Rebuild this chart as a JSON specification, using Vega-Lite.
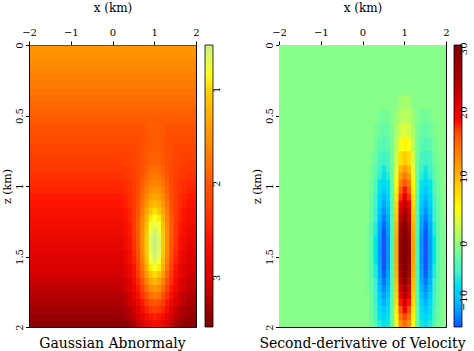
{
"$schema":"https://vega.github.io/schema/vega-lite/v6.json",
"padding":{"left":0,"top":0,"right":0,"bottom":0},
"background":"white",
"config":{
"font":"DejaVu Serif",
"view":{"stroke":"#000","strokeWidth":1},
"axis":{"labelFont":"DejaVu Serif","labelFontSize":10,"labelColor":"#000","titleFont":"DejaVu Serif","titleFontSize":12,"titleFontWeight":"normal","titleColor":"#000","tickColor":"#000","domainColor":"#000","tickSize":4,"grid":false,"labelOverlap":false},
"axisLeft":{"titleFontSize":11},
"legend":{"labelFont":"DejaVu Serif","labelFontSize":10,"labelColor":"#000"},
"title":{"font":"DejaVu Serif","fontSize":14,"fontWeight":"normal","color":"#000"}
},
"datasets":{
"leftBands":[
{"z":0,"v":1.43},{"z":0.05,"v":1.48},{"z":0.1,"v":1.53},{"z":0.15,"v":1.58},{"z":0.2,"v":1.63},{"z":0.25,"v":1.68},{"z":0.3,"v":1.73},{"z":0.35,"v":1.78},{"z":0.4,"v":1.83},{"z":0.45,"v":1.88},
{"z":0.5,"v":1.93},{"z":0.55,"v":1.98},{"z":0.6,"v":2.03},{"z":0.65,"v":2.08},{"z":0.7,"v":2.13},{"z":0.75,"v":2.18},{"z":0.8,"v":2.23},{"z":0.85,"v":2.28},{"z":0.9,"v":2.33},{"z":0.95,"v":2.38},
{"z":1,"v":2.43},{"z":1.05,"v":2.48},{"z":1.1,"v":2.53},{"z":1.15,"v":2.58},{"z":1.2,"v":2.63},{"z":1.25,"v":2.68},{"z":1.3,"v":2.73},{"z":1.35,"v":2.78},{"z":1.4,"v":2.83},{"z":1.45,"v":2.88},
{"z":1.5,"v":2.93},{"z":1.55,"v":2.98},{"z":1.6,"v":3.03},{"z":1.65,"v":3.08},{"z":1.7,"v":3.13},{"z":1.75,"v":3.18},{"z":1.8,"v":3.23},{"z":1.85,"v":3.28},{"z":1.9,"v":3.33},{"z":1.95,"v":3.38}
],
"leftCells":[
{"x":0.75,"z":0.55,"v":1.94},{"x":0.85,"z":0.55,"v":1.92},{"x":0.95,"z":0.55,"v":1.92},{"x":1.05,"z":0.55,"v":1.92},{"x":1.15,"z":0.55,"v":1.94},
{"x":0.55,"z":0.65,"v":2.04},{"x":0.65,"z":0.65,"v":2.0},{"x":0.75,"z":0.65,"v":1.97},{"x":0.85,"z":0.65,"v":1.94},{"x":0.95,"z":0.65,"v":1.93},{"x":1.05,"z":0.65,"v":1.94},{"x":1.15,"z":0.65,"v":1.97},{"x":1.25,"z":0.65,"v":2.0},{"x":1.35,"z":0.65,"v":2.04},
{"x":0.25,"z":0.75,"v":2.18},{"x":0.35,"z":0.75,"v":2.17},{"x":0.45,"z":0.75,"v":2.13},{"x":0.55,"z":0.75,"v":2.08},{"x":0.65,"z":0.75,"v":2.01},{"x":0.75,"z":0.75,"v":1.95},{"x":0.85,"z":0.75,"v":1.89},{"x":0.95,"z":0.75,"v":1.87},{"x":1.05,"z":0.75,"v":1.89},{"x":1.15,"z":0.75,"v":1.95},{"x":1.25,"z":0.75,"v":2.01},{"x":1.35,"z":0.75,"v":2.08},{"x":1.45,"z":0.75,"v":2.13},{"x":1.55,"z":0.75,"v":2.17},{"x":1.65,"z":0.75,"v":2.18},
{"x":0.25,"z":0.85,"v":2.27},{"x":0.35,"z":0.85,"v":2.24},{"x":1.55,"z":0.85,"v":2.24},{"x":1.65,"z":0.85,"v":2.27},
{"x":0.25,"z":0.95,"v":2.36},{"x":0.35,"z":0.95,"v":2.31},{"x":1.55,"z":0.95,"v":2.31},{"x":1.65,"z":0.95,"v":2.36},
{"x":0.25,"z":1.05,"v":2.44},{"x":0.35,"z":1.05,"v":2.36},{"x":1.55,"z":1.05,"v":2.36},{"x":1.65,"z":1.05,"v":2.44},
{"x":0.25,"z":1.15,"v":2.52},{"x":0.35,"z":1.15,"v":2.42},{"x":1.55,"z":1.15,"v":2.42},{"x":1.65,"z":1.15,"v":2.52},
{"x":0.25,"z":1.25,"v":2.6},{"x":0.35,"z":1.25,"v":2.48},{"x":1.55,"z":1.25,"v":2.48},{"x":1.65,"z":1.25,"v":2.6},
{"x":0.25,"z":1.35,"v":2.69},{"x":0.35,"z":1.35,"v":2.56},{"x":1.55,"z":1.35,"v":2.56},{"x":1.65,"z":1.35,"v":2.69},
{"x":0.25,"z":1.45,"v":2.79},{"x":0.35,"z":1.45,"v":2.65},{"x":1.55,"z":1.45,"v":2.65},{"x":1.65,"z":1.45,"v":2.79},
{"x":0.25,"z":1.55,"v":2.9},{"x":0.35,"z":1.55,"v":2.77},{"x":1.55,"z":1.55,"v":2.77},{"x":1.65,"z":1.55,"v":2.9},
{"x":0.25,"z":1.65,"v":3.02},{"x":0.35,"z":1.65,"v":2.91},{"x":1.55,"z":1.65,"v":2.91},{"x":1.65,"z":1.65,"v":3.02},
{"x":0.25,"z":1.75,"v":3.14},{"x":0.35,"z":1.75,"v":3.05},{"x":1.55,"z":1.75,"v":3.05},{"x":1.65,"z":1.75,"v":3.14},
{"x":0.25,"z":1.85,"v":3.25},{"x":0.35,"z":1.85,"v":3.2},{"x":1.55,"z":1.85,"v":3.2},{"x":1.65,"z":1.85,"v":3.25},
{"x":0.25,"z":1.95,"v":3.37},{"x":0.35,"z":1.95,"v":3.33},{"x":1.55,"z":1.95,"v":3.33},{"x":1.65,"z":1.95,"v":3.37}
],
"leftFine":[
{"x":0.45,"z":0.85,"v":2.17},{"x":0.55,"z":0.85,"v":2.09},{"x":0.65,"z":0.85,"v":1.99},{"x":0.75,"z":0.85,"v":1.89},{"x":0.85,"z":0.85,"v":1.81},{"x":0.95,"z":0.85,"v":1.78},{"x":1.05,"z":0.85,"v":1.81},{"x":1.15,"z":0.85,"v":1.89},{"x":1.25,"z":0.85,"v":1.99},{"x":1.35,"z":0.85,"v":2.09},{"x":1.45,"z":0.85,"v":2.17},
{"x":0.45,"z":0.9,"v":2.19},{"x":0.55,"z":0.9,"v":2.09},{"x":0.65,"z":0.9,"v":1.96},{"x":0.75,"z":0.9,"v":1.83},{"x":0.85,"z":0.9,"v":1.72},{"x":0.95,"z":0.9,"v":1.68},{"x":1.05,"z":0.9,"v":1.72},{"x":1.15,"z":0.9,"v":1.83},{"x":1.25,"z":0.9,"v":1.96},{"x":1.35,"z":0.9,"v":2.09},{"x":1.45,"z":0.9,"v":2.19},
{"x":0.45,"z":0.95,"v":2.21},{"x":0.55,"z":0.95,"v":2.08},{"x":0.65,"z":0.95,"v":1.91},{"x":0.75,"z":0.95,"v":1.75},{"x":0.85,"z":0.95,"v":1.62},{"x":0.95,"z":0.95,"v":1.57},{"x":1.05,"z":0.95,"v":1.62},{"x":1.15,"z":0.95,"v":1.75},{"x":1.25,"z":0.95,"v":1.91},{"x":1.35,"z":0.95,"v":2.08},{"x":1.45,"z":0.95,"v":2.21},
{"x":0.45,"z":1.0,"v":2.22},{"x":0.55,"z":1.0,"v":2.06},{"x":0.65,"z":1.0,"v":1.86},{"x":0.75,"z":1.0,"v":1.65},{"x":0.85,"z":1.0,"v":1.49},{"x":0.95,"z":1.0,"v":1.43},{"x":1.05,"z":1.0,"v":1.49},{"x":1.15,"z":1.0,"v":1.65},{"x":1.25,"z":1.0,"v":1.86},{"x":1.35,"z":1.0,"v":2.06},{"x":1.45,"z":1.0,"v":2.22},
{"x":0.45,"z":1.05,"v":2.22},{"x":0.55,"z":1.05,"v":2.03},{"x":0.65,"z":1.05,"v":1.79},{"x":0.75,"z":1.05,"v":1.54},{"x":0.85,"z":1.05,"v":1.35},{"x":0.95,"z":1.05,"v":1.27},{"x":1.05,"z":1.05,"v":1.35},{"x":1.15,"z":1.05,"v":1.54},{"x":1.25,"z":1.05,"v":1.79},{"x":1.35,"z":1.05,"v":2.03},{"x":1.45,"z":1.05,"v":2.22},
{"x":0.45,"z":1.1,"v":2.23},{"x":0.55,"z":1.1,"v":2.0},{"x":0.65,"z":1.1,"v":1.72},{"x":0.75,"z":1.1,"v":1.42},{"x":0.85,"z":1.1,"v":1.2},{"x":0.95,"z":1.1,"v":1.11},{"x":1.05,"z":1.1,"v":1.2},{"x":1.15,"z":1.1,"v":1.42},{"x":1.25,"z":1.1,"v":1.72},{"x":1.35,"z":1.1,"v":2.0},{"x":1.45,"z":1.1,"v":2.23},
{"x":0.45,"z":1.15,"v":2.23},{"x":0.55,"z":1.15,"v":1.98},{"x":0.65,"z":1.15,"v":1.65},{"x":0.75,"z":1.15,"v":1.31},{"x":0.85,"z":1.15,"v":1.04},{"x":0.95,"z":1.15,"v":0.94},{"x":1.05,"z":1.15,"v":1.04},{"x":1.15,"z":1.15,"v":1.31},{"x":1.25,"z":1.15,"v":1.65},{"x":1.35,"z":1.15,"v":1.98},{"x":1.45,"z":1.15,"v":2.23},
{"x":0.45,"z":1.2,"v":2.24},{"x":0.55,"z":1.2,"v":1.95},{"x":0.65,"z":1.2,"v":1.58},{"x":0.75,"z":1.2,"v":1.2},{"x":0.85,"z":1.2,"v":0.9},{"x":0.95,"z":1.2,"v":0.79},{"x":1.05,"z":1.2,"v":0.9},{"x":1.15,"z":1.2,"v":1.2},{"x":1.25,"z":1.2,"v":1.58},{"x":1.35,"z":1.2,"v":1.95},{"x":1.45,"z":1.2,"v":2.24},
{"x":0.45,"z":1.25,"v":2.25},{"x":0.55,"z":1.25,"v":1.93},{"x":0.65,"z":1.25,"v":1.52},{"x":0.75,"z":1.25,"v":1.1},{"x":0.85,"z":1.25,"v":0.78},{"x":0.95,"z":1.25,"v":0.66},{"x":1.05,"z":1.25,"v":0.78},{"x":1.15,"z":1.25,"v":1.1},{"x":1.25,"z":1.25,"v":1.52},{"x":1.35,"z":1.25,"v":1.93},{"x":1.45,"z":1.25,"v":2.25},
{"x":0.45,"z":1.3,"v":2.27},{"x":0.55,"z":1.3,"v":1.93},{"x":0.65,"z":1.3,"v":1.49},{"x":0.75,"z":1.3,"v":1.03},{"x":0.85,"z":1.3,"v":0.68},{"x":0.95,"z":1.3,"v":0.55},{"x":1.05,"z":1.3,"v":0.68},{"x":1.15,"z":1.3,"v":1.03},{"x":1.25,"z":1.3,"v":1.49},{"x":1.35,"z":1.3,"v":1.93},{"x":1.45,"z":1.3,"v":2.27},
{"x":0.45,"z":1.35,"v":2.3},{"x":0.55,"z":1.35,"v":1.94},{"x":0.65,"z":1.35,"v":1.47},{"x":0.75,"z":1.35,"v":1.0},{"x":0.85,"z":1.35,"v":0.63},{"x":0.95,"z":1.35,"v":0.49},{"x":1.05,"z":1.35,"v":0.63},{"x":1.15,"z":1.35,"v":1.0},{"x":1.25,"z":1.35,"v":1.47},{"x":1.35,"z":1.35,"v":1.94},{"x":1.45,"z":1.35,"v":2.3},
{"x":0.45,"z":1.4,"v":2.33},{"x":0.55,"z":1.4,"v":1.96},{"x":0.65,"z":1.4,"v":1.49},{"x":0.75,"z":1.4,"v":1.0},{"x":0.85,"z":1.4,"v":0.62},{"x":0.95,"z":1.4,"v":0.48},{"x":1.05,"z":1.4,"v":0.62},{"x":1.15,"z":1.4,"v":1.0},{"x":1.25,"z":1.4,"v":1.49},{"x":1.35,"z":1.4,"v":1.96},{"x":1.45,"z":1.4,"v":2.33},
{"x":0.45,"z":1.45,"v":2.38},{"x":0.55,"z":1.45,"v":2.01},{"x":0.65,"z":1.45,"v":1.53},{"x":0.75,"z":1.45,"v":1.04},{"x":0.85,"z":1.45,"v":0.66},{"x":0.95,"z":1.45,"v":0.52},{"x":1.05,"z":1.45,"v":0.66},{"x":1.15,"z":1.45,"v":1.04},{"x":1.25,"z":1.45,"v":1.53},{"x":1.35,"z":1.45,"v":2.01},{"x":1.45,"z":1.45,"v":2.38},
{"x":0.45,"z":1.5,"v":2.44},{"x":0.55,"z":1.5,"v":2.07},{"x":0.65,"z":1.5,"v":1.61},{"x":0.75,"z":1.5,"v":1.12},{"x":0.85,"z":1.5,"v":0.75},{"x":0.95,"z":1.5,"v":0.61},{"x":1.05,"z":1.5,"v":0.75},{"x":1.15,"z":1.5,"v":1.12},{"x":1.25,"z":1.5,"v":1.61},{"x":1.35,"z":1.5,"v":2.07},{"x":1.45,"z":1.5,"v":2.44},
{"x":0.45,"z":1.55,"v":2.51},{"x":0.55,"z":1.55,"v":2.16},{"x":0.65,"z":1.55,"v":1.71},{"x":0.75,"z":1.55,"v":1.24},{"x":0.85,"z":1.55,"v":0.89},{"x":0.95,"z":1.55,"v":0.75},{"x":1.05,"z":1.55,"v":0.89},{"x":1.15,"z":1.55,"v":1.24},{"x":1.25,"z":1.55,"v":1.71},{"x":1.35,"z":1.55,"v":2.16},{"x":1.45,"z":1.55,"v":2.51},
{"x":0.45,"z":1.6,"v":2.59},{"x":0.55,"z":1.6,"v":2.26},{"x":0.65,"z":1.6,"v":1.84},{"x":0.75,"z":1.6,"v":1.4},{"x":0.85,"z":1.6,"v":1.07},{"x":0.95,"z":1.6,"v":0.94},{"x":1.05,"z":1.6,"v":1.07},{"x":1.15,"z":1.6,"v":1.4},{"x":1.25,"z":1.6,"v":1.84},{"x":1.35,"z":1.6,"v":2.26},{"x":1.45,"z":1.6,"v":2.59},
{"x":0.45,"z":1.65,"v":2.67},{"x":0.55,"z":1.65,"v":2.37},{"x":0.65,"z":1.65,"v":1.98},{"x":0.75,"z":1.65,"v":1.58},{"x":0.85,"z":1.65,"v":1.28},{"x":0.95,"z":1.65,"v":1.16},{"x":1.05,"z":1.65,"v":1.28},{"x":1.15,"z":1.65,"v":1.58},{"x":1.25,"z":1.65,"v":1.98},{"x":1.35,"z":1.65,"v":2.37},{"x":1.45,"z":1.65,"v":2.67},
{"x":0.45,"z":1.7,"v":2.76},{"x":0.55,"z":1.7,"v":2.49},{"x":0.65,"z":1.7,"v":2.15},{"x":0.75,"z":1.7,"v":1.79},{"x":0.85,"z":1.7,"v":1.51},{"x":0.95,"z":1.7,"v":1.41},{"x":1.05,"z":1.7,"v":1.51},{"x":1.15,"z":1.7,"v":1.79},{"x":1.25,"z":1.7,"v":2.15},{"x":1.35,"z":1.7,"v":2.49},{"x":1.45,"z":1.7,"v":2.76},
{"x":0.45,"z":1.75,"v":2.86},{"x":0.55,"z":1.75,"v":2.62},{"x":0.65,"z":1.75,"v":2.32},{"x":0.75,"z":1.75,"v":2.0},{"x":0.85,"z":1.75,"v":1.76},{"x":0.95,"z":1.75,"v":1.67},{"x":1.05,"z":1.75,"v":1.76},{"x":1.15,"z":1.75,"v":2.0},{"x":1.25,"z":1.75,"v":2.32},{"x":1.35,"z":1.75,"v":2.62},{"x":1.45,"z":1.75,"v":2.86},
{"x":0.45,"z":1.8,"v":2.95},{"x":0.55,"z":1.8,"v":2.75},{"x":0.65,"z":1.8,"v":2.49},{"x":0.75,"z":1.8,"v":2.22},{"x":0.85,"z":1.8,"v":2.02},{"x":0.95,"z":1.8,"v":1.94},{"x":1.05,"z":1.8,"v":2.02},{"x":1.15,"z":1.8,"v":2.22},{"x":1.25,"z":1.8,"v":2.49},{"x":1.35,"z":1.8,"v":2.75},{"x":1.45,"z":1.8,"v":2.95},
{"x":0.45,"z":1.85,"v":3.05},{"x":0.55,"z":1.85,"v":2.88},{"x":0.65,"z":1.85,"v":2.66},{"x":0.75,"z":1.85,"v":2.44},{"x":0.85,"z":1.85,"v":2.26},{"x":0.95,"z":1.85,"v":2.2},{"x":1.05,"z":1.85,"v":2.26},{"x":1.15,"z":1.85,"v":2.44},{"x":1.25,"z":1.85,"v":2.66},{"x":1.35,"z":1.85,"v":2.88},{"x":1.45,"z":1.85,"v":3.05},
{"x":0.45,"z":1.9,"v":3.14},{"x":0.55,"z":1.9,"v":3.0},{"x":0.65,"z":1.9,"v":2.82},{"x":0.75,"z":1.9,"v":2.64},{"x":0.85,"z":1.9,"v":2.5},{"x":0.95,"z":1.9,"v":2.44},{"x":1.05,"z":1.9,"v":2.5},{"x":1.15,"z":1.9,"v":2.64},{"x":1.25,"z":1.9,"v":2.82},{"x":1.35,"z":1.9,"v":3.0},{"x":1.45,"z":1.9,"v":3.14},
{"x":0.45,"z":1.95,"v":3.23},{"x":0.55,"z":1.95,"v":3.11},{"x":0.65,"z":1.95,"v":2.97},{"x":0.75,"z":1.95,"v":2.82},{"x":0.85,"z":1.95,"v":2.71},{"x":0.95,"z":1.95,"v":2.67},{"x":1.05,"z":1.95,"v":2.71},{"x":1.15,"z":1.95,"v":2.82},{"x":1.25,"z":1.95,"v":2.97},{"x":1.35,"z":1.95,"v":3.11},{"x":1.45,"z":1.95,"v":3.23}
],
"rightBg":[{"v":0}],
"rightCells":[
{"x":0.85,"z":0.35,"v":1.2},{"x":0.95,"z":0.35,"v":1.4},{"x":1.05,"z":0.35,"v":1.2},
{"x":0.35,"z":0.45,"v":-0.7},{"x":0.45,"z":0.45,"v":-0.9},{"x":0.55,"z":0.45,"v":-0.8},{"x":0.65,"z":0.45,"v":-0.2},{"x":0.75,"z":0.45,"v":0.9},{"x":0.85,"z":0.45,"v":2.1},{"x":0.95,"z":0.45,"v":2.4},{"x":1.05,"z":0.45,"v":2.1},{"x":1.15,"z":0.45,"v":0.9},{"x":1.25,"z":0.45,"v":-0.2},{"x":1.35,"z":0.45,"v":-0.8},{"x":1.45,"z":0.45,"v":-0.9},{"x":1.55,"z":0.45,"v":-0.7},
{"x":0.25,"z":0.55,"v":-0.6},{"x":0.35,"z":0.55,"v":-1.2},{"x":0.45,"z":0.55,"v":-1.6},{"x":0.55,"z":0.55,"v":-1.3},{"x":0.65,"z":0.55,"v":-0.4},{"x":0.75,"z":0.55,"v":1.5},{"x":0.85,"z":0.55,"v":3.5},{"x":0.95,"z":0.55,"v":4.1},{"x":1.05,"z":0.55,"v":3.5},{"x":1.15,"z":0.55,"v":1.5},{"x":1.25,"z":0.55,"v":-0.4},{"x":1.35,"z":0.55,"v":-1.3},{"x":1.45,"z":0.55,"v":-1.6},{"x":1.55,"z":0.55,"v":-1.2},{"x":1.65,"z":0.55,"v":-0.6},
{"x":0.25,"z":0.65,"v":-1.0},{"x":0.35,"z":0.65,"v":-1.9},{"x":0.45,"z":0.65,"v":-2.5},{"x":0.55,"z":0.65,"v":-2.0},{"x":0.65,"z":0.65,"v":-0.6},{"x":0.75,"z":0.65,"v":2.3},{"x":0.85,"z":0.65,"v":5.6},{"x":0.95,"z":0.65,"v":6.5},{"x":1.05,"z":0.65,"v":5.6},{"x":1.15,"z":0.65,"v":2.3},{"x":1.25,"z":0.65,"v":-0.6},{"x":1.35,"z":0.65,"v":-2.0},{"x":1.45,"z":0.65,"v":-2.5},{"x":1.55,"z":0.65,"v":-1.9},{"x":1.65,"z":0.65,"v":-1.0},
{"x":0.15,"z":0.75,"v":-0.6},{"x":0.25,"z":0.75,"v":-1.4},{"x":0.35,"z":0.75,"v":-2.9},{"x":0.45,"z":0.75,"v":-3.7},{"x":0.55,"z":0.75,"v":-3.0},{"x":0.65,"z":0.75,"v":-0.9},{"x":0.75,"z":0.75,"v":3.5},{"x":0.85,"z":0.75,"v":8.4},{"x":0.95,"z":0.75,"v":9.8},{"x":1.05,"z":0.75,"v":8.4},{"x":1.15,"z":0.75,"v":3.5},{"x":1.25,"z":0.75,"v":-0.9},{"x":1.35,"z":0.75,"v":-3.0},{"x":1.45,"z":0.75,"v":-3.7},{"x":1.55,"z":0.75,"v":-2.9},{"x":1.65,"z":0.75,"v":-1.4},{"x":1.75,"z":0.75,"v":-0.6},
{"x":0.15,"z":0.85,"v":-0.8},{"x":0.25,"z":0.85,"v":-2.0},{"x":1.65,"z":0.85,"v":-2.0},{"x":1.75,"z":0.85,"v":-0.8},
{"x":0.15,"z":0.95,"v":-1.1},{"x":0.25,"z":0.95,"v":-2.7},{"x":1.65,"z":0.95,"v":-2.7},{"x":1.75,"z":0.95,"v":-1.1},
{"x":0.15,"z":1.05,"v":-1.4},{"x":0.25,"z":1.05,"v":-3.5},{"x":1.65,"z":1.05,"v":-3.5},{"x":1.75,"z":1.05,"v":-1.4},
{"x":0.15,"z":1.15,"v":-1.7},{"x":0.25,"z":1.15,"v":-4.1},{"x":1.65,"z":1.15,"v":-4.1},{"x":1.75,"z":1.15,"v":-1.7},
{"x":0.05,"z":1.25,"v":-0.6},{"x":0.15,"z":1.25,"v":-1.9},{"x":0.25,"z":1.25,"v":-4.7},{"x":1.65,"z":1.25,"v":-4.7},{"x":1.75,"z":1.25,"v":-1.9},{"x":1.85,"z":1.25,"v":-0.6},
{"x":0.05,"z":1.35,"v":-0.6},{"x":0.15,"z":1.35,"v":-2.0},{"x":0.25,"z":1.35,"v":-5.0},{"x":1.65,"z":1.35,"v":-5.0},{"x":1.75,"z":1.35,"v":-2.0},{"x":1.85,"z":1.35,"v":-0.6},
{"x":0.05,"z":1.45,"v":-0.6},{"x":0.15,"z":1.45,"v":-2.0},{"x":0.25,"z":1.45,"v":-5.0},{"x":1.65,"z":1.45,"v":-5.0},{"x":1.75,"z":1.45,"v":-2.0},{"x":1.85,"z":1.45,"v":-0.6},
{"x":0.05,"z":1.55,"v":-0.6},{"x":0.15,"z":1.55,"v":-1.9},{"x":0.25,"z":1.55,"v":-4.7},{"x":1.65,"z":1.55,"v":-4.7},{"x":1.75,"z":1.55,"v":-1.9},{"x":1.85,"z":1.55,"v":-0.6},
{"x":0.05,"z":1.65,"v":-0.5},{"x":0.15,"z":1.65,"v":-1.7},{"x":0.25,"z":1.65,"v":-4.2},{"x":1.65,"z":1.65,"v":-4.2},{"x":1.75,"z":1.65,"v":-1.7},{"x":1.85,"z":1.65,"v":-0.5},
{"x":0.15,"z":1.75,"v":-1.4},{"x":0.25,"z":1.75,"v":-3.6},{"x":1.65,"z":1.75,"v":-3.6},{"x":1.75,"z":1.75,"v":-1.4},
{"x":0.15,"z":1.85,"v":-1.2},{"x":0.25,"z":1.85,"v":-2.9},{"x":1.65,"z":1.85,"v":-2.9},{"x":1.75,"z":1.85,"v":-1.2},
{"x":0.15,"z":1.95,"v":-0.9},{"x":0.25,"z":1.95,"v":-2.2},{"x":1.65,"z":1.95,"v":-2.2},{"x":1.75,"z":1.95,"v":-0.9}
],
"rightFine":[
{"x":0.35,"z":0.85,"v":-3.8},{"x":0.45,"z":0.85,"v":-4.9},{"x":0.55,"z":0.85,"v":-3.9},{"x":0.65,"z":0.85,"v":-1.1},{"x":0.75,"z":0.85,"v":4.5},{"x":0.85,"z":0.85,"v":10.9},{"x":0.95,"z":0.85,"v":12.8},{"x":1.05,"z":0.85,"v":10.9},{"x":1.15,"z":0.85,"v":4.5},{"x":1.25,"z":0.85,"v":-1.1},{"x":1.35,"z":0.85,"v":-3.9},{"x":1.45,"z":0.85,"v":-4.9},{"x":1.55,"z":0.85,"v":-3.8},
{"x":0.35,"z":0.9,"v":-4.4},{"x":0.45,"z":0.9,"v":-5.7},{"x":0.55,"z":0.9,"v":-4.6},{"x":0.65,"z":0.9,"v":-1.3},{"x":0.75,"z":0.9,"v":5.3},{"x":0.85,"z":0.9,"v":12.8},{"x":0.95,"z":0.9,"v":15.0},{"x":1.05,"z":0.9,"v":12.8},{"x":1.15,"z":0.9,"v":5.3},{"x":1.25,"z":0.9,"v":-1.3},{"x":1.35,"z":0.9,"v":-4.6},{"x":1.45,"z":0.9,"v":-5.7},{"x":1.55,"z":0.9,"v":-4.4},
{"x":0.35,"z":0.95,"v":-5.1},{"x":0.45,"z":0.95,"v":-6.6},{"x":0.55,"z":0.95,"v":-5.4},{"x":0.65,"z":0.95,"v":-1.5},{"x":0.75,"z":0.95,"v":6.1},{"x":0.85,"z":0.95,"v":14.8},{"x":0.95,"z":0.95,"v":17.4},{"x":1.05,"z":0.95,"v":14.8},{"x":1.15,"z":0.95,"v":6.1},{"x":1.25,"z":0.95,"v":-1.5},{"x":1.35,"z":0.95,"v":-5.4},{"x":1.45,"z":0.95,"v":-6.6},{"x":1.55,"z":0.95,"v":-5.1},
{"x":0.35,"z":1.0,"v":-5.8},{"x":0.45,"z":1.0,"v":-7.6},{"x":0.55,"z":1.0,"v":-6.1},{"x":0.65,"z":1.0,"v":-1.7},{"x":0.75,"z":1.0,"v":7.0},{"x":0.85,"z":1.0,"v":16.9},{"x":0.95,"z":1.0,"v":19.8},{"x":1.05,"z":1.0,"v":16.9},{"x":1.15,"z":1.0,"v":7.0},{"x":1.25,"z":1.0,"v":-1.7},{"x":1.35,"z":1.0,"v":-6.1},{"x":1.45,"z":1.0,"v":-7.6},{"x":1.55,"z":1.0,"v":-5.8},
{"x":0.35,"z":1.05,"v":-6.6},{"x":0.45,"z":1.05,"v":-8.5},{"x":0.55,"z":1.05,"v":-6.9},{"x":0.65,"z":1.05,"v":-2.0},{"x":0.75,"z":1.05,"v":7.9},{"x":0.85,"z":1.05,"v":19.0},{"x":0.95,"z":1.05,"v":22.3},{"x":1.05,"z":1.05,"v":19.0},{"x":1.15,"z":1.05,"v":7.9},{"x":1.25,"z":1.05,"v":-2.0},{"x":1.35,"z":1.05,"v":-6.9},{"x":1.45,"z":1.05,"v":-8.5},{"x":1.55,"z":1.05,"v":-6.6},
{"x":0.35,"z":1.1,"v":-7.3},{"x":0.45,"z":1.1,"v":-9.4},{"x":0.55,"z":1.1,"v":-7.6},{"x":0.65,"z":1.1,"v":-2.2},{"x":0.75,"z":1.1,"v":8.7},{"x":0.85,"z":1.1,"v":21.1},{"x":0.95,"z":1.1,"v":24.7},{"x":1.05,"z":1.1,"v":21.1},{"x":1.15,"z":1.1,"v":8.7},{"x":1.25,"z":1.1,"v":-2.2},{"x":1.35,"z":1.1,"v":-7.6},{"x":1.45,"z":1.1,"v":-9.4},{"x":1.55,"z":1.1,"v":-7.3},
{"x":0.35,"z":1.15,"v":-7.9},{"x":0.45,"z":1.15,"v":-10.3},{"x":0.55,"z":1.15,"v":-8.3},{"x":0.65,"z":1.15,"v":-2.4},{"x":0.75,"z":1.15,"v":9.5},{"x":0.85,"z":1.15,"v":23.0},{"x":0.95,"z":1.15,"v":27.0},{"x":1.05,"z":1.15,"v":23.0},{"x":1.15,"z":1.15,"v":9.5},{"x":1.25,"z":1.15,"v":-2.4},{"x":1.35,"z":1.15,"v":-8.3},{"x":1.45,"z":1.15,"v":-10.3},{"x":1.55,"z":1.15,"v":-7.9},
{"x":0.35,"z":1.2,"v":-8.5},{"x":0.45,"z":1.2,"v":-11.1},{"x":0.55,"z":1.2,"v":-9.0},{"x":0.65,"z":1.2,"v":-2.6},{"x":0.75,"z":1.2,"v":10.2},{"x":0.85,"z":1.2,"v":24.8},{"x":0.95,"z":1.2,"v":29.0},{"x":1.05,"z":1.2,"v":24.8},{"x":1.15,"z":1.2,"v":10.2},{"x":1.25,"z":1.2,"v":-2.6},{"x":1.35,"z":1.2,"v":-9.0},{"x":1.45,"z":1.2,"v":-11.1},{"x":1.55,"z":1.2,"v":-8.5},
{"x":0.35,"z":1.25,"v":-9.1},{"x":0.45,"z":1.25,"v":-11.8},{"x":0.55,"z":1.25,"v":-9.5},{"x":0.65,"z":1.25,"v":-2.7},{"x":0.75,"z":1.25,"v":10.9},{"x":0.85,"z":1.25,"v":26.3},{"x":0.95,"z":1.25,"v":30.8},{"x":1.05,"z":1.25,"v":26.3},{"x":1.15,"z":1.25,"v":10.9},{"x":1.25,"z":1.25,"v":-2.7},{"x":1.35,"z":1.25,"v":-9.5},{"x":1.45,"z":1.25,"v":-11.8},{"x":1.55,"z":1.25,"v":-9.1},
{"x":0.35,"z":1.3,"v":-9.5},{"x":0.45,"z":1.3,"v":-12.3},{"x":0.55,"z":1.3,"v":-10.0},{"x":0.65,"z":1.3,"v":-2.8},{"x":0.75,"z":1.3,"v":11.4},{"x":0.85,"z":1.3,"v":27.5},{"x":0.95,"z":1.3,"v":32.3},{"x":1.05,"z":1.3,"v":27.5},{"x":1.15,"z":1.3,"v":11.4},{"x":1.25,"z":1.3,"v":-2.8},{"x":1.35,"z":1.3,"v":-10.0},{"x":1.45,"z":1.3,"v":-12.3},{"x":1.55,"z":1.3,"v":-9.5},
{"x":0.35,"z":1.35,"v":-9.8},{"x":0.45,"z":1.35,"v":-12.7},{"x":0.55,"z":1.35,"v":-10.3},{"x":0.65,"z":1.35,"v":-2.9},{"x":0.75,"z":1.35,"v":11.8},{"x":0.85,"z":1.35,"v":28.4},{"x":0.95,"z":1.35,"v":33.3},{"x":1.05,"z":1.35,"v":28.4},{"x":1.15,"z":1.35,"v":11.8},{"x":1.25,"z":1.35,"v":-2.9},{"x":1.35,"z":1.35,"v":-10.3},{"x":1.45,"z":1.35,"v":-12.7},{"x":1.55,"z":1.35,"v":-9.8},
{"x":0.35,"z":1.4,"v":-10.0},{"x":0.45,"z":1.4,"v":-13.0},{"x":0.55,"z":1.4,"v":-10.5},{"x":0.65,"z":1.4,"v":-3.0},{"x":0.75,"z":1.4,"v":12.0},{"x":0.85,"z":1.4,"v":28.9},{"x":0.95,"z":1.4,"v":33.9},{"x":1.05,"z":1.4,"v":28.9},{"x":1.15,"z":1.4,"v":12.0},{"x":1.25,"z":1.4,"v":-3.0},{"x":1.35,"z":1.4,"v":-10.5},{"x":1.45,"z":1.4,"v":-13.0},{"x":1.55,"z":1.4,"v":-10.0},
{"x":0.35,"z":1.45,"v":-10.0},{"x":0.45,"z":1.45,"v":-13.0},{"x":0.55,"z":1.45,"v":-10.5},{"x":0.65,"z":1.45,"v":-3.0},{"x":0.75,"z":1.45,"v":12.0},{"x":0.85,"z":1.45,"v":29.0},{"x":0.95,"z":1.45,"v":34.0},{"x":1.05,"z":1.45,"v":29.0},{"x":1.15,"z":1.45,"v":12.0},{"x":1.25,"z":1.45,"v":-3.0},{"x":1.35,"z":1.45,"v":-10.5},{"x":1.45,"z":1.45,"v":-13.0},{"x":1.55,"z":1.45,"v":-10.0},
{"x":0.35,"z":1.5,"v":-9.9},{"x":0.45,"z":1.5,"v":-12.8},{"x":0.55,"z":1.5,"v":-10.4},{"x":0.65,"z":1.5,"v":-3.0},{"x":0.75,"z":1.5,"v":11.9},{"x":0.85,"z":1.5,"v":28.7},{"x":0.95,"z":1.5,"v":33.6},{"x":1.05,"z":1.5,"v":28.7},{"x":1.15,"z":1.5,"v":11.9},{"x":1.25,"z":1.5,"v":-3.0},{"x":1.35,"z":1.5,"v":-10.4},{"x":1.45,"z":1.5,"v":-12.8},{"x":1.55,"z":1.5,"v":-9.9},
{"x":0.35,"z":1.55,"v":-9.6},{"x":0.45,"z":1.55,"v":-12.5},{"x":0.55,"z":1.55,"v":-10.1},{"x":0.65,"z":1.55,"v":-2.9},{"x":0.75,"z":1.55,"v":11.6},{"x":0.85,"z":1.55,"v":27.9},{"x":0.95,"z":1.55,"v":32.7},{"x":1.05,"z":1.55,"v":27.9},{"x":1.15,"z":1.55,"v":11.6},{"x":1.25,"z":1.55,"v":-2.9},{"x":1.35,"z":1.55,"v":-10.1},{"x":1.45,"z":1.55,"v":-12.5},{"x":1.55,"z":1.55,"v":-9.6},
{"x":0.35,"z":1.6,"v":-9.3},{"x":0.45,"z":1.6,"v":-12.0},{"x":0.55,"z":1.6,"v":-9.7},{"x":0.65,"z":1.6,"v":-2.8},{"x":0.75,"z":1.6,"v":11.1},{"x":0.85,"z":1.6,"v":26.8},{"x":0.95,"z":1.6,"v":31.5},{"x":1.05,"z":1.6,"v":26.8},{"x":1.15,"z":1.6,"v":11.1},{"x":1.25,"z":1.6,"v":-2.8},{"x":1.35,"z":1.6,"v":-9.7},{"x":1.45,"z":1.6,"v":-12.0},{"x":1.55,"z":1.6,"v":-9.3},
{"x":0.35,"z":1.65,"v":-8.8},{"x":0.45,"z":1.65,"v":-11.4},{"x":0.55,"z":1.65,"v":-9.2},{"x":0.65,"z":1.65,"v":-2.6},{"x":0.75,"z":1.65,"v":10.5},{"x":0.85,"z":1.65,"v":25.4},{"x":0.95,"z":1.65,"v":29.8},{"x":1.05,"z":1.65,"v":25.4},{"x":1.15,"z":1.65,"v":10.5},{"x":1.25,"z":1.65,"v":-2.6},{"x":1.35,"z":1.65,"v":-9.2},{"x":1.45,"z":1.65,"v":-11.4},{"x":1.55,"z":1.65,"v":-8.8},
{"x":0.35,"z":1.7,"v":-8.2},{"x":0.45,"z":1.7,"v":-10.6},{"x":0.55,"z":1.7,"v":-8.6},{"x":0.65,"z":1.7,"v":-2.5},{"x":0.75,"z":1.7,"v":9.8},{"x":0.85,"z":1.7,"v":23.7},{"x":0.95,"z":1.7,"v":27.8},{"x":1.05,"z":1.7,"v":23.7},{"x":1.15,"z":1.7,"v":9.8},{"x":1.25,"z":1.7,"v":-2.5},{"x":1.35,"z":1.7,"v":-8.6},{"x":1.45,"z":1.7,"v":-10.6},{"x":1.55,"z":1.7,"v":-8.2},
{"x":0.35,"z":1.75,"v":-7.5},{"x":0.45,"z":1.75,"v":-9.8},{"x":0.55,"z":1.75,"v":-7.9},{"x":0.65,"z":1.75,"v":-2.3},{"x":0.75,"z":1.75,"v":9.0},{"x":0.85,"z":1.75,"v":21.8},{"x":0.95,"z":1.75,"v":25.6},{"x":1.05,"z":1.75,"v":21.8},{"x":1.15,"z":1.75,"v":9.0},{"x":1.25,"z":1.75,"v":-2.3},{"x":1.35,"z":1.75,"v":-7.9},{"x":1.45,"z":1.75,"v":-9.8},{"x":1.55,"z":1.75,"v":-7.5},
{"x":0.35,"z":1.8,"v":-6.8},{"x":0.45,"z":1.8,"v":-8.9},{"x":0.55,"z":1.8,"v":-7.2},{"x":0.65,"z":1.8,"v":-2.0},{"x":0.75,"z":1.8,"v":8.2},{"x":0.85,"z":1.8,"v":19.8},{"x":0.95,"z":1.8,"v":23.2},{"x":1.05,"z":1.8,"v":19.8},{"x":1.15,"z":1.8,"v":8.2},{"x":1.25,"z":1.8,"v":-2.0},{"x":1.35,"z":1.8,"v":-7.2},{"x":1.45,"z":1.8,"v":-8.9},{"x":1.55,"z":1.8,"v":-6.8},
{"x":0.35,"z":1.85,"v":-6.1},{"x":0.45,"z":1.85,"v":-7.9},{"x":0.55,"z":1.85,"v":-6.4},{"x":0.65,"z":1.85,"v":-1.8},{"x":0.75,"z":1.85,"v":7.3},{"x":0.85,"z":1.85,"v":17.7},{"x":0.95,"z":1.85,"v":20.8},{"x":1.05,"z":1.85,"v":17.7},{"x":1.15,"z":1.85,"v":7.3},{"x":1.25,"z":1.85,"v":-1.8},{"x":1.35,"z":1.85,"v":-6.4},{"x":1.45,"z":1.85,"v":-7.9},{"x":1.55,"z":1.85,"v":-6.1},
{"x":0.35,"z":1.9,"v":-5.4},{"x":0.45,"z":1.9,"v":-7.0},{"x":0.55,"z":1.9,"v":-5.7},{"x":0.65,"z":1.9,"v":-1.6},{"x":0.75,"z":1.9,"v":6.5},{"x":0.85,"z":1.9,"v":15.6},{"x":0.95,"z":1.9,"v":18.3},{"x":1.05,"z":1.9,"v":15.6},{"x":1.15,"z":1.9,"v":6.5},{"x":1.25,"z":1.9,"v":-1.6},{"x":1.35,"z":1.9,"v":-5.7},{"x":1.45,"z":1.9,"v":-7.0},{"x":1.55,"z":1.9,"v":-5.4},
{"x":0.35,"z":1.95,"v":-4.7},{"x":0.45,"z":1.95,"v":-6.1},{"x":0.55,"z":1.95,"v":-4.9},{"x":0.65,"z":1.95,"v":-1.4},{"x":0.75,"z":1.95,"v":5.6},{"x":0.85,"z":1.95,"v":13.6},{"x":0.95,"z":1.95,"v":15.9},{"x":1.05,"z":1.95,"v":13.6},{"x":1.15,"z":1.95,"v":5.6},{"x":1.25,"z":1.95,"v":-1.4},{"x":1.35,"z":1.95,"v":-4.9},{"x":1.45,"z":1.95,"v":-6.1},{"x":1.55,"z":1.95,"v":-4.7}
]
},
"hconcat":[
{
"width":167,"height":282,
"title":{"text":"Gaussian Abnormaly","orient":"bottom","anchor":"middle","frame":"group","offset":7},
"layer":[
{"data":{"name":"leftBands"},
"mark":{"type":"rect","clip":true},
"encoding":{
"x":{"datum":-2,"type":"quantitative","scale":{"domain":[-2,2],"nice":false,"zero":false},"axis":{"orient":"top","title":"x (km)","values":[-2,-1,0,1,2],"format":"~g","titlePadding":13,"labelPadding":4,"labelFlush":false}},
"x2":{"datum":2},
"y":{"field":"z","type":"quantitative","bin":{"binned":true,"step":0.056},"scale":{"domain":[0,2],"reverse":true,"nice":false,"zero":false},"axis":{"orient":"left","title":"z (km)","values":[0,0.5,1,1.5,2],"format":"~g","labelAngle":-90,"labelAlign":"center","labelBaseline":"bottom","tickSize":3.5,"labelPadding":1,"titleX":-17,"titleBaseline":"bottom","labelFlush":false}},
"color":{"field":"v","type":"quantitative","scale":{"domain":[3.49,3.0,2.5,2.0,1.4,1.0,0.85,0.7,0.49],"range":["#780000","#d80000","#ff1400","#ff5000","#ff9900","#ffcc00","#ffff00","#f0ff40","#c8f080"],"clamp":true},
"legend":{"title":null,"values":[1,2,3],"gradientLength":282,"gradientThickness":8,"offset":9,"padding":0,"labelOffset":4,"gradientStrokeColor":"#000","gradientStrokeWidth":0.8,"labelAlign":"center","labelBaseline":"top","labelOverlap":false,"encode":{"labels":{"update":{"angle":{"value":-90}}}}}}
}},
{"data":{"name":"leftCells"},
"mark":{"type":"rect","clip":true},
"encoding":{
"x":{"field":"x","type":"quantitative","bin":{"binned":true,"step":0.11},"scale":{"domain":[-2,2],"nice":false,"zero":false},"axis":{"orient":"top","title":"x (km)","values":[-2,-1,0,1,2],"format":"~g","titlePadding":13,"labelPadding":4,"labelFlush":false}},
"y":{"field":"z","type":"quantitative","bin":{"binned":true,"step":0.106},"scale":{"domain":[0,2],"reverse":true,"nice":false,"zero":false},"axis":{"orient":"left","title":"z (km)","values":[0,0.5,1,1.5,2],"format":"~g","labelAngle":-90,"labelAlign":"center","labelBaseline":"bottom","tickSize":3.5,"labelPadding":1,"titleX":-17,"titleBaseline":"bottom","labelFlush":false}},
"color":{"field":"v","type":"quantitative","scale":{"domain":[3.49,3.0,2.5,2.0,1.4,1.0,0.85,0.7,0.49],"range":["#780000","#d80000","#ff1400","#ff5000","#ff9900","#ffcc00","#ffff00","#f0ff40","#c8f080"],"clamp":true},
"legend":{"title":null,"values":[1,2,3],"gradientLength":282,"gradientThickness":8,"offset":9,"padding":0,"labelOffset":4,"gradientStrokeColor":"#000","gradientStrokeWidth":0.8,"labelAlign":"center","labelBaseline":"top","labelOverlap":false,"encode":{"labels":{"update":{"angle":{"value":-90}}}}}}
}},
{"data":{"name":"leftFine"},
"mark":{"type":"rect","clip":true},
"encoding":{
"x":{"field":"x","type":"quantitative","bin":{"binned":true,"step":0.11},"scale":{"domain":[-2,2],"nice":false,"zero":false},"axis":{"orient":"top","title":"x (km)","values":[-2,-1,0,1,2],"format":"~g","titlePadding":13,"labelPadding":4,"labelFlush":false}},
"y":{"field":"z","type":"quantitative","bin":{"binned":true,"step":0.053},"scale":{"domain":[0,2],"reverse":true,"nice":false,"zero":false},"axis":{"orient":"left","title":"z (km)","values":[0,0.5,1,1.5,2],"format":"~g","labelAngle":-90,"labelAlign":"center","labelBaseline":"bottom","tickSize":3.5,"labelPadding":1,"titleX":-17,"titleBaseline":"bottom","labelFlush":false}},
"color":{"field":"v","type":"quantitative","scale":{"domain":[3.49,3.0,2.5,2.0,1.4,1.0,0.85,0.7,0.49],"range":["#780000","#d80000","#ff1400","#ff5000","#ff9900","#ffcc00","#ffff00","#f0ff40","#c8f080"],"clamp":true},
"legend":{"title":null,"values":[1,2,3],"gradientLength":282,"gradientThickness":8,"offset":9,"padding":0,"labelOffset":4,"gradientStrokeColor":"#000","gradientStrokeWidth":0.8,"labelAlign":"center","labelBaseline":"top","labelOverlap":false,"encode":{"labels":{"update":{"angle":{"value":-90}}}}}}
}}
]
},
{
"width":167,"height":282,
"title":{"text":"Second-derivative of Velocity","orient":"bottom","anchor":"middle","frame":"group","offset":7},
"layer":[
{"data":{"name":"rightBg"},
"mark":{"type":"rect","clip":true},
"encoding":{
"x":{"datum":-2,"type":"quantitative","scale":{"domain":[-2,2],"nice":false,"zero":false},"axis":{"orient":"top","title":"x (km)","values":[-2,-1,0,1,2],"format":"~g","titlePadding":13,"labelPadding":4,"labelFlush":false}},
"x2":{"datum":2},
"y":{"datum":0,"type":"quantitative","scale":{"domain":[0,2],"reverse":true,"nice":false,"zero":false},"axis":{"orient":"left","title":"z (km)","values":[0,0.5,1,1.5,2],"format":"~g","labelAngle":-90,"labelAlign":"center","labelBaseline":"bottom","tickSize":3.5,"labelPadding":1,"titleX":-17,"titleBaseline":"bottom","labelFlush":false}},
"y2":{"datum":2},
"color":{"field":"v","type":"quantitative","scale":{"domain":[-12.5,-10.5,-7.3,-4.2,0,3,6,10,14.5,20,26,31.6],"range":["#1a50ff","#0a90ff","#00d0ff","#40f0d0","#88ff88","#c8ff50","#ffff00","#ffc800","#ff8000","#ff0000","#b00000","#800000"],"clamp":true},
"legend":{"title":null,"values":[-10,0,10,20,30],"gradientLength":282,"gradientThickness":8,"offset":8,"padding":0,"labelOffset":2,"gradientStrokeColor":"#000","gradientStrokeWidth":0.8,"labelAlign":"center","labelBaseline":"top","labelOverlap":false,"encode":{"labels":{"update":{"angle":{"value":-90}}}}}}
}},
{"data":{"name":"rightCells"},
"mark":{"type":"rect","clip":true},
"encoding":{
"x":{"field":"x","type":"quantitative","bin":{"binned":true,"step":0.11},"scale":{"domain":[-2,2],"nice":false,"zero":false},"axis":{"orient":"top","title":"x (km)","values":[-2,-1,0,1,2],"format":"~g","titlePadding":13,"labelPadding":4,"labelFlush":false}},
"y":{"field":"z","type":"quantitative","bin":{"binned":true,"step":0.106},"scale":{"domain":[0,2],"reverse":true,"nice":false,"zero":false},"axis":{"orient":"left","title":"z (km)","values":[0,0.5,1,1.5,2],"format":"~g","labelAngle":-90,"labelAlign":"center","labelBaseline":"bottom","tickSize":3.5,"labelPadding":1,"titleX":-17,"titleBaseline":"bottom","labelFlush":false}},
"color":{"field":"v","type":"quantitative","scale":{"domain":[-12.5,-10.5,-7.3,-4.2,0,3,6,10,14.5,20,26,31.6],"range":["#1a50ff","#0a90ff","#00d0ff","#40f0d0","#88ff88","#c8ff50","#ffff00","#ffc800","#ff8000","#ff0000","#b00000","#800000"],"clamp":true},
"legend":{"title":null,"values":[-10,0,10,20,30],"gradientLength":282,"gradientThickness":8,"offset":8,"padding":0,"labelOffset":2,"gradientStrokeColor":"#000","gradientStrokeWidth":0.8,"labelAlign":"center","labelBaseline":"top","labelOverlap":false,"encode":{"labels":{"update":{"angle":{"value":-90}}}}}}
}},
{"data":{"name":"rightFine"},
"mark":{"type":"rect","clip":true},
"encoding":{
"x":{"field":"x","type":"quantitative","bin":{"binned":true,"step":0.11},"scale":{"domain":[-2,2],"nice":false,"zero":false},"axis":{"orient":"top","title":"x (km)","values":[-2,-1,0,1,2],"format":"~g","titlePadding":13,"labelPadding":4,"labelFlush":false}},
"y":{"field":"z","type":"quantitative","bin":{"binned":true,"step":0.053},"scale":{"domain":[0,2],"reverse":true,"nice":false,"zero":false},"axis":{"orient":"left","title":"z (km)","values":[0,0.5,1,1.5,2],"format":"~g","labelAngle":-90,"labelAlign":"center","labelBaseline":"bottom","tickSize":3.5,"labelPadding":1,"titleX":-17,"titleBaseline":"bottom","labelFlush":false}},
"color":{"field":"v","type":"quantitative","scale":{"domain":[-12.5,-10.5,-7.3,-4.2,0,3,6,10,14.5,20,26,31.6],"range":["#1a50ff","#0a90ff","#00d0ff","#40f0d0","#88ff88","#c8ff50","#ffff00","#ffc800","#ff8000","#ff0000","#b00000","#800000"],"clamp":true},
"legend":{"title":null,"values":[-10,0,10,20,30],"gradientLength":282,"gradientThickness":8,"offset":8,"padding":0,"labelOffset":2,"gradientStrokeColor":"#000","gradientStrokeWidth":0.8,"labelAlign":"center","labelBaseline":"top","labelOverlap":false,"encode":{"labels":{"update":{"angle":{"value":-90}}}}}}
}}
]
}
],
"spacing":27,
"resolve":{"scale":{"color":"independent"}}
}
